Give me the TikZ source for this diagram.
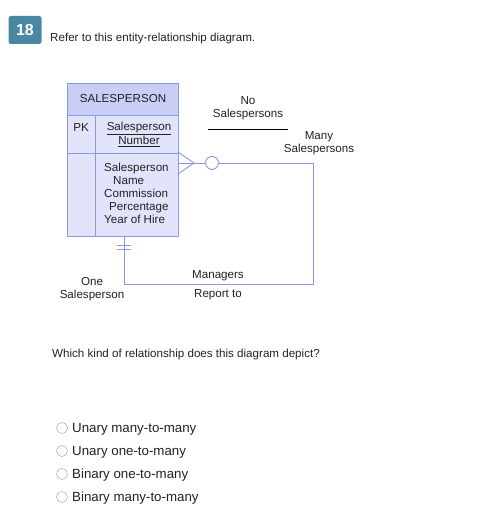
\documentclass[tikz,border=0pt]{standalone}
\usepackage{fontspec}
\setmainfont{Liberation Sans}
\usetikzlibrary{positioning}
\definecolor{badgeblue}{HTML}{4A87A3}
\definecolor{erline}{HTML}{8C98E2}
\definecolor{erhead}{HTML}{C9CEF6}
\definecolor{erbody}{HTML}{E1E4FB}
\definecolor{txt}{HTML}{222222}

\begin{document}
\begin{tikzpicture}[x=1pt, y=-1pt, every node/.style={font=\fontsize{11.6}{13}\selectfont, inner sep=0pt, text=txt},
	erpath/.style={draw=erline, line width=0.9pt},
	radio/.style={circle, draw=gray!80, fill=white, minimum size=11pt},
	choice/.style={anchor=base west, font=\fontsize{13.3}{15}\selectfont}]
	\useasboundingbox (0,0) rectangle (484,529);
	\node[fill=badgeblue, rounded corners=2.5pt, minimum width=33pt, minimum height=28pt, text=white, font=\fontsize{16}{18}\bfseries] (badge) at (25,30) {18};
	\node[anchor=base west] (prompt) at (50,42) {Refer to this entity-relationship diagram.};
	% entity box
	\node[erpath, fill=erbody, minimum width=111pt, minimum height=153pt, anchor=north west] (ent) at (67,83) {};
	\draw[erpath, fill=erhead] (ent.north west) rectangle (178,115);
	\draw[erpath] (67,153) -- (178,153);
	\draw[erpath] (95,115) -- (95,236);
	\node (title) at (123,99) {SALESPERSON};
	\node (pk) at (81,128) {PK};
	\node[align=center, anchor=north, font=\fontsize{11.6}{14}\selectfont] (key) at (139,122) {\underline{Salesperson}\\\underline{Number}};
	\node[align=left, anchor=north west] (attrs) at (104,163) {Salesperson\\\hspace*{9pt}Name\\Commission\\\hspace*{5pt}Percentage\\Year of Hire};
	% relationship
	\node[circle, erpath, fill=white, minimum size=13pt] (opt) at (212,163) {};
	\coordinate (foot) at (194,163);
	\coordinate (corner1) at (313,163);
	\coordinate (corner2) at (313,284);
	\coordinate (corner3) at (124,284);
	\draw[erpath] (178,152) -- (foot) -- (178,174);
	\draw[erpath] (ent.east |- foot) -- (opt.west);
	\draw[erpath] (opt.east) -- (corner1) -- (corner2) -- (corner3) -- (ent.south -| corner3);
	\draw[erpath] (117,245) -- (131,245);
	\draw[erpath] (117,249) -- (131,249);
	\node[align=center] (nosales) at (248,108) {No\\Salespersons};
	\draw[black, line width=0.8pt] (208,129) -- (288,129);
	\node[align=center] (manysales) at (319,143) {Many\\Salespersons};
	\node[align=center] (onesales) at (92,289) {One\\Salesperson};
	\node[anchor=base] (managers) at (218,278) {Managers};
	\node[anchor=base] (reportto) at (218,297) {Report to};
	% question
	\node[anchor=base west] (question) at (52,357) {Which kind of relationship does this diagram depict?};
	\foreach \y/\lbl [count=\i] in {428/Unary many-to-many, 451/Unary one-to-many, 474/Binary one-to-many, 497/Binary many-to-many} {
		\node[radio] (radio\i) at (62,\y) {};
		\node[choice] (choice\i) at (72,\y+4) {\lbl};
	}
\end{tikzpicture}
\end{document}
